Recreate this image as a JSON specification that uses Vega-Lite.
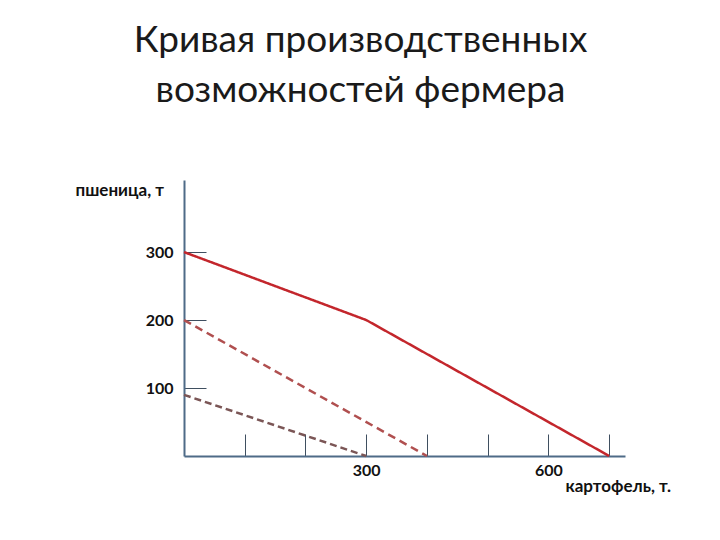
{
  "$schema": "https://vega.github.io/schema/vega-lite/v6.json",
  "autosize": {"type": "none"},
  "padding": {"left": 184, "top": 180, "right": 95, "bottom": 84},
  "width": 441,
  "height": 276,
  "background": "white",
  "title": {
    "text": ["Кривая производственных", "возможностей фермера"],
    "font": "Lato",
    "fontSize": 37,
    "fontWeight": "normal",
    "color": "#1a1a1a",
    "lineHeight": 50,
    "anchor": "middle",
    "frame": "group",
    "dx": -44,
    "offset": 70
  },
  "data": {
    "values": [
      {"series": "max", "potatoes": 0, "wheat": 300},
      {"series": "max", "potatoes": 300, "wheat": 200},
      {"series": "max", "potatoes": 700, "wheat": 0},
      {"series": "mid", "potatoes": 0, "wheat": 200},
      {"series": "mid", "potatoes": 400, "wheat": 0},
      {"series": "low", "potatoes": 0, "wheat": 90},
      {"series": "low", "potatoes": 300, "wheat": 0}
    ]
  },
  "mark": {"type": "line", "strokeWidth": 2.5, "clip": false},
  "encoding": {
    "x": {
      "field": "potatoes",
      "type": "quantitative",
      "scale": {"domain": [0, 726], "nice": false, "zero": true},
      "axis": {
        "values": [100, 200, 300, 400, 500, 600, 700],
        "labelExpr": "datum.value == 300 || datum.value == 600 ? datum.label : ''",
        "grid": false,
        "domainColor": "#4e6b87",
        "domainWidth": 2,
        "tickColor": "#3f4f60",
        "tickWidth": 1,
        "tickSize": -22,
        "labelPadding": 28,
        "labelFont": "Lato",
        "labelFontSize": 16,
        "labelFontWeight": "bold",
        "labelColor": "#111111",
        "labelFlush": false,
        "title": "картофель,  т.",
        "titleFont": "Lato",
        "titleFontSize": 17,
        "titleFontWeight": "bold",
        "titleColor": "#111111",
        "titleAlign": "left",
        "titleBaseline": "alphabetic",
        "titleX": 381,
        "titleY": 35
      }
    },
    "y": {
      "field": "wheat",
      "type": "quantitative",
      "scale": {"domain": [0, 406], "nice": false},
      "axis": {
        "values": [100, 200, 300],
        "grid": false,
        "domainColor": "#4e6b87",
        "domainWidth": 2,
        "tickColor": "#3f4f60",
        "tickWidth": 1,
        "tickSize": -22,
        "labelPadding": 33,
        "labelFont": "Lato",
        "labelFontSize": 16,
        "labelFontWeight": "bold",
        "labelColor": "#111111",
        "title": "пшеница, т",
        "titleFont": "Lato",
        "titleFontSize": 17,
        "titleFontWeight": "bold",
        "titleColor": "#111111",
        "titleAngle": 0,
        "titleAlign": "left",
        "titleBaseline": "alphabetic",
        "titleX": -109,
        "titleY": 15
      }
    },
    "color": {
      "field": "series",
      "type": "nominal",
      "scale": {"domain": ["max", "mid", "low"], "range": ["#c3262c", "#b04f4f", "#7b5656"]},
      "legend": null
    },
    "strokeDash": {
      "field": "series",
      "type": "nominal",
      "scale": {"domain": ["max", "mid", "low"], "range": [[1, 0], [8, 5], [7, 4]]},
      "legend": null
    }
  },
  "config": {"view": {"stroke": null}}
}
